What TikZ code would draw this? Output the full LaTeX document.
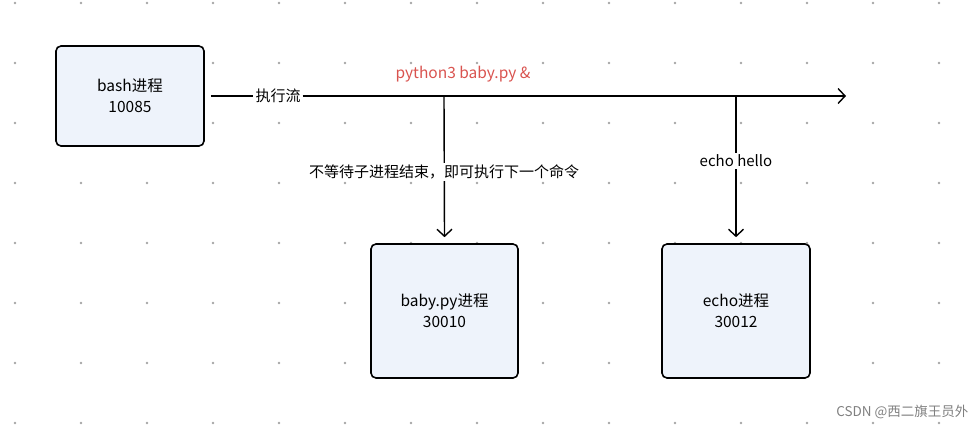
\documentclass[tikz,border=0pt]{standalone}
\usepackage{fontspec}
\setmainfont{Noto Sans CJK SC}
\usetikzlibrary{arrows.meta}
\definecolor{boxfill}{HTML}{EEF3FB}
\definecolor{cmdred}{HTML}{D9534F}
\begin{document}
\begin{tikzpicture}[x=1pt,y=-1pt,
  proc/.style={draw=black,line width=1.6pt,rounded corners=5pt,fill=boxfill,font=\fontsize{15.5}{21}\selectfont,align=center},
  flow/.style={line width=1.4pt},
  arr/.style={flow,-{Straight Barb[length=7pt,width=15pt,line width=1.4pt]}},
  lbl/.style={font=\fontsize{15}{18}\selectfont,fill=white,inner sep=2pt}]
\useasboundingbox (0,0) rectangle (975,429);
\foreach \x in {15,81,...,975} \foreach \y in {3,63,...,429} \fill[gray!70] (\x,\y) circle (1.3);
\node[proc,minimum width=148pt,minimum height=100pt] (bash) at (130,96) {bash进程\\10085};
\node[proc,minimum width=147pt,minimum height=134pt] (baby) at (444.5,311) {baby.py进程\\30010};
\node[proc,minimum width=148pt,minimum height=134pt] (echo) at (736,311) {echo进程\\30012};
\node[lbl] (exe) at (278,96) {执行流};
\coordinate (end) at (846,96);
\coordinate (b1) at (444,96);
\coordinate (b2) at (736,96);
\draw[flow] (bash.east) ++(6,0) -- (exe.west);
\draw[arr] (exe.east) -- (end);
\draw[arr] (b1) -- ([yshift=6pt]baby.north);
\draw[arr] (b2) -- ([yshift=6pt]echo.north);
\node[lbl] (wait) at (444,172) {不等待子进程结束，即可执行下一个命令};
\node[lbl] (eh) at (736,161) {echo hello};
\node[font=\fontsize{15.5}{18}\selectfont,text=cmdred] (cmd) at (463,74) {python3 baby.py \&};
\node[font=\fontsize{13.5}{16}\selectfont,text=gray,anchor=east] (wm) at (972,412) {CSDN @西二旗王员外};
\end{tikzpicture}
\end{document}
